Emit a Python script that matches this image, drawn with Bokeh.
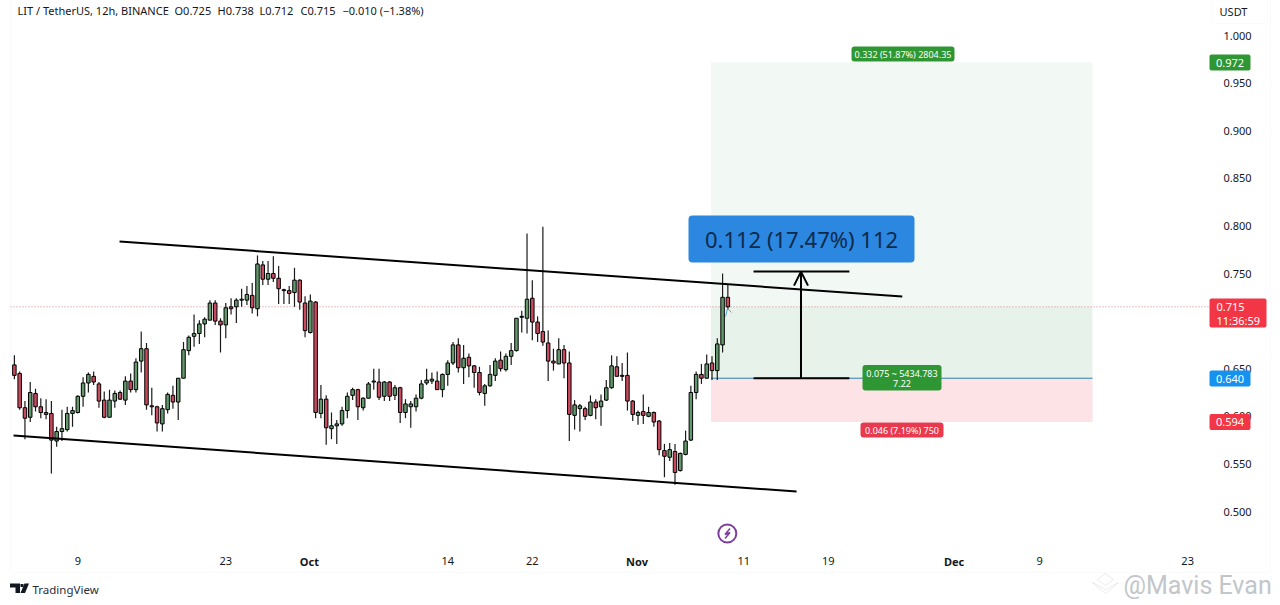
import pandas as pd
from bokeh.embed import file_html
from bokeh.resources import INLINE
from bokeh.plotting import figure
from bokeh.models import (Arrow, BoxAnnotation, ColumnDataSource, FixedTicker, Label, LinearAxis,
                          OpenHead, PolyAnnotation, Range1d)

# ---- candle values (12h bars, first bar 2024-09-03 00:00) ----
opens = [.654,.645,.609,.599,.624,.610,.604,.603,.574,.584,.586,.603,.604,.621,.635,.642,.634,.617,.599,.616,
         .625,.617,.637,.628,.658,.671,.611,.610,.592,.607,.622,.615,.640,.669,.684,.687,.697,.701,.719,.700,
         .696,.715,.715,.722,.722,.727,.713,.759,.744,.750,.745,.733,.732,.730,.743,.719,.688,.720,.603,.618,
         .587,.590,.592,.606,.622,.628,.609,.619,.636,.636,.621,.636,.622,.630,.604,.610,.610,.619,.635,.637,
         .637,.628,.644,.656,.675,.651,.662,.653,.646,.624,.632,.643,.659,.649,.663,.669,.704,.703,.724,.699,
         .689,.677,.658,.655,.670,.656,.601,.608,.608,.601,.615,.610,.617,.630,.652,.643,.643,.616,.601,.605,
         .600,.604,.595,.564,.557,.563,.543,.560,.575,.625,.644,.640,.656,.648,.675,.725]
highs = [.664,.647,.616,.636,.629,.619,.618,.616,.589,.607,.610,.610,.622,.641,.646,.647,.636,.626,.628,.627,
         .627,.642,.645,.661,.689,.677,.630,.611,.612,.625,.632,.640,.678,.685,.707,.701,.704,.722,.722,.703,
         .719,.724,.724,.734,.737,.740,.769,.763,.763,.768,.758,.734,.737,.756,.744,.726,.728,.721,.633,.622,
         .604,.596,.610,.625,.630,.629,.620,.636,.650,.650,.637,.637,.633,.631,.618,.616,.623,.638,.650,.646,
         .647,.645,.659,.678,.682,.675,.666,.654,.652,.634,.654,.661,.668,.666,.677,.703,.711,.792,.743,.705,
         .799,.690,.671,.682,.675,.668,.617,.613,.610,.622,.618,.623,.638,.664,.663,.656,.667,.617,.606,.623,
         .610,.605,.596,.571,.572,.571,.562,.585,.632,.647,.655,.665,.663,.682,.750,.738]
lows = [.639,.607,.576,.594,.605,.598,.597,.540,.568,.574,.584,.589,.603,.610,.625,.633,.609,.598,.599,.609,
        .617,.612,.625,.625,.646,.607,.601,.584,.584,.603,.608,.596,.640,.664,.673,.676,.683,.701,.696,.667,
        .682,.707,.698,.715,.717,.708,.705,.738,.738,.741,.718,.718,.718,.715,.712,.683,.687,.598,.598,.570,
        .576,.571,.590,.598,.617,.596,.606,.619,.628,.617,.616,.616,.617,.593,.598,.588,.605,.618,.633,.634,
        .628,.620,.632,.654,.646,.634,.641,.630,.622,.611,.631,.637,.647,.647,.654,.668,.688,.687,.680,.678,
        .674,.637,.648,.655,.640,.574,.586,.584,.596,.600,.597,.590,.616,.629,.642,.637,.606,.595,.591,.592,
        .599,.589,.559,.536,.553,.528,.542,.559,.574,.618,.634,.640,.638,.638,.667,.712]
closes = [.643,.609,.598,.625,.610,.604,.602,.575,.584,.587,.603,.606,.621,.635,.644,.636,.616,.599,.617,.624,
          .618,.637,.628,.657,.671,.612,.610,.593,.608,.623,.615,.640,.670,.683,.687,.697,.702,.719,.700,.696,
          .714,.713,.722,.723,.728,.714,.760,.744,.750,.745,.734,.732,.729,.743,.720,.690,.721,.604,.618,.588,
          .590,.592,.606,.621,.628,.610,.619,.634,.637,.620,.636,.621,.630,.604,.613,.613,.619,.634,.638,.639,
          .628,.644,.656,.675,.651,.661,.653,.646,.625,.632,.644,.658,.650,.663,.669,.703,.705,.723,.699,.687,
          .678,.658,.656,.670,.656,.602,.612,.611,.600,.615,.609,.616,.630,.653,.642,.642,.616,.602,.604,.601,
          .604,.594,.565,.558,.565,.541,.561,.574,.625,.644,.640,.655,.648,.676,.725,.715]
first_bar = "2024-09-03 00:00"

# ---- axes ----
price_ticks = [0.5, 0.55, 0.6, 0.65, 0.75, 0.8, 0.85, 0.9, 0.95, 1.0]
price_tick_labels = ["0.500", "0.550", "0.600", "0.650", "0.750", "0.800", "0.850", "0.900", "0.950", "1.000"]
day_ticks = ["2024-09-09", "2024-09-23", "2024-10-14", "2024-10-22", "2024-11-11", "2024-11-19", "2024-12-09", "2024-12-23"]
day_tick_labels = ["9", "23", "14", "22", "11", "19", "9", "23"]
month_ticks = ["2024-10-01", "2024-11-01", "2024-12-01"]
month_tick_labels = ["Oct", "Nov", "Dec"]

# ---- position tool and drawings ----
entry_price, target_price, stop_price, last_price = 0.640, 0.972, 0.594, 0.715
box_days = (59.9, 96.0)
upper_line_days, upper_line_prices = (3.95, 78.0), (0.7836, 0.7258)
lower_line_days, lower_line_prices = (-6.08, 68.0), (0.5798, 0.5210)
measure_days = (63.93, 73.0)
measure_arrow_day = 68.42
measure_prices = (0.640, 0.752)
icon_day, icon_price = 61.45, 0.4769

# ---- pixel calibration of the picture ----
PX_DAY, X0 = 10.57, 77.3
PX_PRICE, Y0 = 952.0, 987.0
DAY_MS = 86400000.0
base_ms = pd.Timestamp("2024-09-09").value / 1e6

def day_ms(d):
    return base_ms + d * DAY_MS

def tx(sx):
    return day_ms((sx - X0) / PX_DAY)

def ty(sy):
    return (Y0 - sy) / PX_PRICE

def date_ms(s):
    return pd.Timestamp(s).value / 1e6

dates = pd.date_range(first_bar, periods=len(opens), freq="12h")
up = [c >= o for o, c in zip(opens, closes)]
src = ColumnDataSource(dict(
    t=dates, o=opens, h=highs, l=lows, c=closes,
    top=[max(o, c) for o, c in zip(opens, closes)],
    bottom=[min(o, c) for o, c in zip(opens, closes)],
    color=["#62986c" if u else "#c94a5e" for u in up],
))

FONT = "Noto Sans"
p = figure(width=1280, height=605, output_backend="svg", toolbar_location=None,
           x_axis_type=None, y_axis_type=None,
           x_range=Range1d(tx(0), tx(1280)), y_range=Range1d(ty(605), ty(0)),
           min_border_left=0, min_border_right=0, min_border_top=0, min_border_bottom=0,
           background_fill_color="white", border_fill_color="white")
p.outline_line_color = None
p.grid.visible = False

# axes: labels are pulled inside by negative standoffs
yaxis = LinearAxis(ticker=FixedTicker(ticks=price_ticks),
                   major_label_overrides=dict(zip(price_ticks, price_tick_labels)))
xaxis = LinearAxis(ticker=FixedTicker(ticks=[date_ms(d) for d in day_ticks]),
                   major_label_overrides=dict(zip([date_ms(d) for d in day_ticks], day_tick_labels)))
for ax in (xaxis, yaxis):
    ax.axis_line_color = None
    ax.major_tick_line_color = None
    ax.minor_tick_line_color = None
    ax.major_label_text_font = FONT
    ax.major_label_text_font_size = "11px"
    ax.major_label_text_color = "#131722"
yaxis.major_label_standoff = -63
xaxis.major_label_standoff = -55
p.add_layout(yaxis, "right")
p.add_layout(xaxis, "below")

LEVEL = "annotation"

def label(sx, sy, text, size, color="#131722", align="left", style="normal", font=FONT):
    p.add_layout(Label(x=sx, y=sy, x_units="canvas", y_units="canvas", text=text, text_font=font,
                       text_font_size=f"{size}px", text_color=color, text_align=align,
                       text_baseline="middle", text_font_style=style, level=LEVEL))

def box(s_left, s_right, s_top, s_bottom, fill, line=None, radius=0, level=LEVEL):
    p.add_layout(BoxAnnotation(left=s_left, right=s_right, top=s_top, bottom=s_bottom,
                               left_units="canvas", right_units="canvas", top_units="canvas", bottom_units="canvas",
                               fill_color=fill, fill_alpha=1.0 if fill else 0, line_color=line, line_width=1,
                               border_radius=radius, level=level))

# frame lines
box(10, 1270, -5, 572, None, "#eef0f5")

# position tool
bl, br = day_ms(box_days[0]), day_ms(box_days[1])
p.quad(left=[bl], right=[br], top=[target_price], bottom=[last_price], fill_color="#f2f9f5", line_color=None)
p.quad(left=[bl], right=[br], top=[last_price], bottom=[entry_price], fill_color="#e7f3ea", line_color=None)
p.quad(left=[bl], right=[br], top=[entry_price], bottom=[stop_price], fill_color="#fde3e6", line_color=None)
p.segment(x0=[bl], x1=[br], y0=[entry_price], y1=[entry_price], line_color="#2a7fb5", line_width=1)

# last price line
p.segment(x0=[tx(10)], x1=[tx(1209)], y0=[last_price], y1=[last_price],
          line_color="#c98790", line_dash="1 2", line_width=1)

# candles
p.segment("t", "h", "t", "l", source=src, line_color="#1a1a1a", line_width=1.2)
p.vbar(x="t", top="top", bottom="bottom", width=0.33 * DAY_MS, source=src,
       fill_color="color", line_color="black", line_width=1)

# small blue mark by the last candle
p.line([tx(725), tx(727), tx(731)], [ty(316), ty(308), ty(312)], line_color="#4fa8d8", line_width=1)

# channel lines
p.line([day_ms(d) for d in upper_line_days], upper_line_prices, line_color="black", line_width=2)
p.line([day_ms(d) for d in lower_line_days], lower_line_prices, line_color="black", line_width=2)

# measure
m0, m1 = day_ms(measure_days[0]), day_ms(measure_days[1])
p.segment(x0=[m0, m0], x1=[m1, m1], y0=list(measure_prices), y1=list(measure_prices),
          line_color="black", line_width=2)
p.add_layout(Arrow(end=OpenHead(size=14, line_width=2, line_color="black"),
                   x_start=day_ms(measure_arrow_day), x_end=day_ms(measure_arrow_day),
                   y_start=measure_prices[0], y_end=measure_prices[1], line_color="black", line_width=2))

# lightning icon
p.scatter([day_ms(icon_day)], [icon_price], marker="circle", size=18, fill_color=None,
          line_color="#7d3f9e", line_width=2)
p.line([tx(729.5), tx(724.5), tx(729.5), tx(724.5)], [ty(528), ty(534), ty(532), ty(538)],
       line_color="#7d3f9e", line_width=1.5)

# info bubble
box(688, 914, 215, 262, "#2b87e0", radius=4)
label(801, 238.5, "0.112 (17.47%) 112", 22, color="#0e2a4a", align="center")

# position tags
box(851, 954, 46, 61, "#2e9734", radius=3)
label(902.5, 53.5, "0.332 (51.87%) 2804.35", 9, color="white", align="center")
box(862, 941, 364.5, 390, "#2e9734", radius=3)
label(901.5, 372.5, "0.075 ~ 5434.783", 9, color="white", align="center")
label(901.5, 383, "7.22", 9, color="white", align="center")
box(860, 943, 422, 437, "#e8394f", radius=3)
label(901.5, 429.5, "0.046 (7.19%) 750", 9, color="white", align="center")

# price tags
box(1209, 1250, 54, 70, "#2e9734", radius=2)
label(1229.5, 62, "0.972", 11, color="white", align="center")
box(1209, 1250, 370, 386, "#1592f0", radius=2)
label(1229.5, 378, "0.640", 11, color="white", align="center")
box(1209, 1250, 413.5, 429.5, "#f23645", radius=2)
label(1229.5, 421.5, "0.594", 11, color="white", align="center")
box(1209, 1266, 298, 327, "#f23645", radius=2)
label(1216, 306.5, "0.715", 11, color="white")
label(1216, 320, "11:36:59", 11, color="white")

# month labels
for d, t in zip(month_ticks, month_tick_labels):
    sx_m = X0 + (date_ms(d) - base_ms) / DAY_MS * PX_DAY
    label(sx_m - 1, 560.5, t, 11, align="center", style="bold")

# currency button
box(1212, 1267, -3, 23, "white", "#eef0f5", radius=4)
label(1233, 11, "USDT", 11, align="center")

# header
label(17, 9.5, "LIT / TetherUS, 12h, BINANCE", 11)
label(174, 9.5, "O0.725", 11)
label(217, 9.5, "H0.738", 11)
label(259, 9.5, "L0.712", 11)
label(300, 9.5, "C0.715", 11)
label(342, 9.5, "\u22120.010 (\u22121.38%)", 11)

# TradingView logo
def poly(points, fill=None, line=None, width=1):
    p.add_layout(PolyAnnotation(xs=[a for a, _ in points], ys=[b for _, b in points],
                                xs_units="canvas", ys_units="canvas",
                                fill_color=fill, fill_alpha=1.0 if fill else 0,
                                line_color=line, line_width=width, level=LEVEL))

poly([(9.5, 583), (19.5, 583), (19.5, 592.5), (15, 592.5), (15, 587), (9.5, 587)], fill="#131722")
poly([(20, 583.5), (23, 583.5), (23, 586.5), (20, 586.5)], fill="#131722")
poly([(24, 583), (28.5, 583), (24.5, 592.5), (20, 592.5)], fill="#131722")
label(32, 588.5, "TradingView", 11.5, color="#2a2e39")

# watermark
poly([(1105, 573), (1113, 579), (1105, 585), (1097, 579)], line="#b9bdc3")
poly([(1092, 582), (1105, 593), (1118, 582), (1105, 589)], line="#b9bdc3")
label(1123, 584.5, "@Mavis Evan", 25, color="#c2c6cb", font="Roboto")

open("out.html", "w").write(file_html(p, INLINE))
